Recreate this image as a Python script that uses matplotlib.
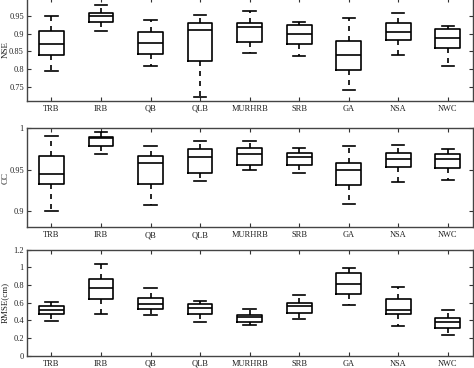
#Box plots of NSE, CC and RMSE for each basin
import matplotlib.pyplot as plt
import numpy as np

plt.rcParams['font.family'] = ['Liberation Serif', 'DejaVu Serif']

basins = ['TRB', 'IRB', 'QB', 'QLB', 'MURHRB', 'SRB', 'GA', 'NSA', 'NWC']

#whisker low, q1, median, q3, whisker high
nse_low = [0.794, 0.907, 0.807, 0.721, 0.846, 0.836, 0.739, 0.839, 0.808]
nse_q1 = [0.838, 0.932, 0.843, 0.822, 0.875, 0.871, 0.798, 0.883, 0.859]
nse_med = [0.871, 0.950, 0.873, 0.911, 0.918, 0.900, 0.840, 0.905, 0.887]
nse_q3 = [0.9075, 0.959, 0.905, 0.930, 0.930, 0.923, 0.878, 0.931, 0.913]
nse_high = [0.951, 0.980, 0.938, 0.953, 0.964, 0.932, 0.943, 0.958, 0.922]

cc_low = [0.900, 0.969, 0.907, 0.936, 0.950, 0.946, 0.908, 0.935, 0.937]
cc_q1 = [0.933, 0.979, 0.933, 0.946, 0.956, 0.956, 0.931, 0.953, 0.952]
cc_med = [0.945, 0.988, 0.958, 0.965, 0.969, 0.965, 0.949, 0.963, 0.963]
cc_q3 = [0.966, 0.990, 0.967, 0.975, 0.976, 0.970, 0.9585, 0.970, 0.969]
cc_high = [0.9907, 0.9955, 0.978, 0.985, 0.985, 0.976, 0.979, 0.980, 0.975]

rmse_low = [0.396, 0.472, 0.460, 0.377, 0.351, 0.415, 0.574, 0.336, 0.240]
rmse_q1 = [0.475, 0.638, 0.528, 0.472, 0.385, 0.487, 0.694, 0.475, 0.310]
rmse_med = [0.521, 0.762, 0.585, 0.536, 0.435, 0.566, 0.808, 0.517, 0.385]
rmse_q3 = [0.562, 0.864, 0.649, 0.585, 0.461, 0.594, 0.936, 0.645, 0.430]
rmse_high = [0.611, 1.042, 0.770, 0.619, 0.530, 0.687, 0.989, 0.777, 0.521]

nse_ticks = [0.75, 0.8, 0.85, 0.9, 0.95]
nse_labels = ['0.75', '0.8', '0.85', '0.9', '0.95']
cc_ticks = [0.9, 0.95, 1.0]
cc_labels = ['0.9', '0.95', '1']
rmse_ticks = [0, 0.2, 0.4, 0.6, 0.8, 1.0, 1.2]
rmse_labels = ['0', '0.2', '0.4', '0.6', '0.8', '1', '1.2']

panels = [
    ('NSE', [nse_low, nse_q1, nse_med, nse_q3, nse_high], (0.71, 1.0), nse_ticks, nse_labels),
    ('CC', [cc_low, cc_q1, cc_med, cc_q3, cc_high], (0.88, 1.0), cc_ticks, cc_labels),
    ('RMSE(cm)', [rmse_low, rmse_q1, rmse_med, rmse_q3, rmse_high], (0, 1.2), rmse_ticks, rmse_labels),
]

#axes rectangles in figure fractions [left, bottom, width, height]
rects = [[0.0563, 0.7264, 0.9407, 0.2782],
         [0.0563, 0.3823, 0.9407, 0.2691],
         [0.0563, 0.0334, 0.9407, 0.2881]]

fig = plt.figure(figsize=(4.74, 3.68), dpi=100)

for (name, vals, ylim, ticks, labels), rect in zip(panels, rects):
    ax = fig.add_axes(rect)
    low, q1, med, q3, high = vals
    stats = []
    for i in range(len(basins)):
        stats.append({'whislo': low[i], 'q1': q1[i], 'med': med[i], 'q3': q3[i],
                      'whishi': high[i], 'fliers': []})
    ax.bxp(stats, positions=np.arange(1, len(basins) + 1), widths=0.5,
           showfliers=False,
           boxprops=dict(color='black', linewidth=1.2),
           medianprops=dict(color='black', linewidth=1.2),
           whiskerprops=dict(color='black', linewidth=1.2, linestyle=(0, (3, 3))),
           capprops=dict(color='black', linewidth=1.2),
           capwidths=0.25)
    ax.set_xlim(0.5, 9.5)
    ax.set_ylim(*ylim)
    ax.set_xticks(np.arange(1, len(basins) + 1))
    ax.set_xticklabels(basins)
    ax.set_yticks(ticks)
    ax.set_yticklabels(labels)
    ax.tick_params(direction='in', length=3, width=0.8, labelsize=6, pad=2,
                   top=True, right=True, colors='#333333', labelcolor='#222222')
    ax.tick_params(axis='x', pad=3)
    for s in ax.spines.values():
        s.set_linewidth(1.0)
        s.set_color('#444444')
    ax.set_ylabel(name, fontsize=6.5, color='#222222')
    ax.yaxis.set_label_coords(-0.039, 0.5)

fig.savefig('out.png', dpi=100)
